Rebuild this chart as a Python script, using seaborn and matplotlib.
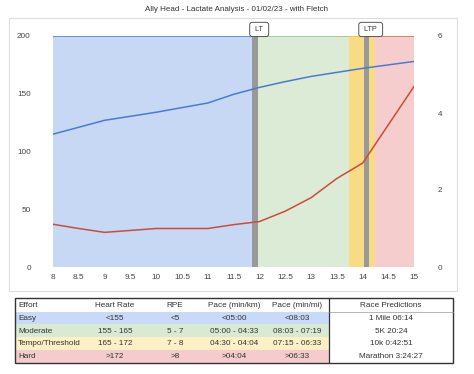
import matplotlib
matplotlib.use("Agg")
import matplotlib.pyplot as plt
from matplotlib.patches import Rectangle
import seaborn as sns
import pandas as pd

sns.set_theme(style="white")
plt.rcParams['font.family'] = ['Liberation Sans', 'DejaVu Sans']

# ---------------- data ----------------
title = "Ally Head - Lactate Analysis - 01/02/23 - with Fletch"
speed = [8, 8.5, 9, 9.5, 10, 10.5, 11, 11.5, 12, 12.5, 13, 13.5, 14, 14.5, 15]
heart_rate = [115, 121, 127, 130.5, 134, 138, 142, 149.5, 155.5, 160.5, 165, 168.5, 172, 175, 178]
lactate = [1.11, 1.0, 0.9, 0.95, 1.0, 1.0, 1.0, 1.1, 1.18, 1.45, 1.8, 2.3, 2.7, 3.7, 4.7]

zone_names = ["Easy", "Moderate", "Tempo/Threshold", "Hard"]
zone_start = [8.0, 11.98, 13.73, 14.23]
zone_end = [11.85, 13.73, 14.23, 15.0]
zone_top = [200, 200, 200, 200]

threshold_labels = ["LT", "LTP"]
threshold_start = [11.85, 14.02]
threshold_end = [11.98, 14.13]

x_ticks = [8, 8.5, 9, 9.5, 10, 10.5, 11, 11.5, 12, 12.5, 13, 13.5, 14, 14.5, 15]
x_tick_labels = ["8", "8.5", "9", "9.5", "10", "10.5", "11", "11.5", "12", "12.5",
                 "13", "13.5", "14", "14.5", "15"]
left_ticks = [0, 50, 100, 150, 200]
right_ticks = [0, 2, 4, 6]

table_header = ["Effort", "Heart Rate", "RPE", "Pace (min/km)", "Pace (min/mi)", "Race Predictions"]
col_heart_rate = ["<155", "155 - 165", "165 - 172", ">172"]
col_rpe = ["<5", "5 - 7", "7 - 8", ">8"]
col_pace_km = ["<05:00", "05:00 - 04:33", "04:30 - 04:04", ">04:04"]
col_pace_mi = ["<08:03", "08:03 - 07:19", "07:15 - 06:33", ">06:33"]
race_predictions = ["1 Mile 06:14", "5K 20:24", "10k 0:42:51", "Marathon 3:24:27"]

# ---------------- styles ----------------
zone_fill = ["#c6d8f4", "#dcebd6", "#f7dc85", "#f5cdcd"]
zone_line = ["#4a7fd6", "#93c47d", "#f1c232", "#e06666"]
row_fill = ["#c9daf8", "#d9ead3", "#fdefc6", "#f4cccc"]
hr_color = "#4a7bd4"
lac_color = "#cc4b3c"
txt = "#444444"
fs = 5.9

W, H = 474, 374
fig = plt.figure(figsize=(W / 100, H / 100), dpi=100)

# chart border
bg = fig.add_axes([0, 0, 1, 1])
bg.set_xlim(0, W)
bg.set_ylim(H, 0)
bg.axis("off")
bg.add_patch(Rectangle((9, 18), 448, 273, fill=False, ec="#dddddd", lw=0.8))
bg.text(W / 2, 9.5, title, ha="center", va="center", fontsize=5.8, color="#333333")

# main axes
x0, x1, ytop, ybot = 53, 414.3, 36, 267
ax = fig.add_axes([x0 / W, 1 - ybot / H, (x1 - x0) / W, (ybot - ytop) / H])
ax.set_xlim(8, 15)
ax.set_ylim(0, 200)

for s, e, t, f, l in zip(zone_start, zone_end, zone_top, zone_fill, zone_line):
    ax.fill_between([s, e], 0, t, color=f, lw=0, zorder=1)
    ax.plot([s, e], [t, t], color=l, lw=1.1, zorder=2, solid_capstyle="butt")
for s, e in zip(threshold_start, threshold_end):
    ax.fill_between([s, e], 0, 200, color="#999999", lw=0, zorder=3)

df = pd.DataFrame({"speed": speed, "hr": heart_rate, "lactate": lactate})
sns.lineplot(data=df, x="speed", y="hr", ax=ax, color=hr_color, lw=1.1, zorder=4)

ax2 = ax.twinx()
ax2.set_ylim(0, 6)
sns.lineplot(data=df, x="speed", y="lactate", ax=ax2, color=lac_color, lw=1.1, zorder=4)

for a in (ax, ax2):
    for sp in a.spines.values():
        sp.set_visible(False)
    a.set_xlabel("")
    a.set_ylabel("")
    a.patch.set_alpha(0)
ax.set_xticks(x_ticks)
ax.set_xticklabels(x_tick_labels)
ax.set_yticks(left_ticks)
ax2.set_yticks(right_ticks)
ax.tick_params(axis="x", length=0, pad=5, labelsize=fs, colors=txt)
ax.tick_params(axis="y", length=0, pad=16, labelsize=fs, colors=txt)
ax2.tick_params(axis="y", length=0, pad=17, labelsize=fs, colors=txt)
for lab in ax2.get_yticklabels():
    lab.set_horizontalalignment("left")

# threshold label boxes
for lab, s, e in zip(threshold_labels, threshold_start, threshold_end):
    ax.annotate(" " + lab + " ", xy=((s + e) / 2 + 0.08, 1.0), xycoords=("data", "axes fraction"),
                xytext=(0, 2.2), textcoords="offset points",
                ha="center", va="bottom", fontsize=5.2, color="#333333", zorder=6,
                annotation_clip=False,
                bbox=dict(boxstyle="round,pad=0.5,rounding_size=0.35", fc="white",
                          ec="#555555", lw=0.7))

# ---------------- table ----------------
tb = fig.add_axes([0, 0, 1, 1])
tb.set_xlim(0, W)
tb.set_ylim(H, 0)
tb.axis("off")
tl, tr, ttop = 15, 453, 298
hdr_h, row_h = 13.5, 12.75
sep = 329
col_x = [18, 115, 175, 234, 297, 391]
col_ha = ["left", "center", "center", "center", "center", "center"]

for i, f in enumerate(row_fill):
    y = ttop + hdr_h + i * row_h
    tb.add_patch(Rectangle((tl, y), sep - tl, row_h, fc=f, ec="none"))
for j, h in enumerate(table_header):
    tb.text(col_x[j], ttop + hdr_h / 2 + 0.5, h, ha=col_ha[j], va="center",
            fontsize=fs, color="#333333")
cols = [zone_names, col_heart_rate, col_rpe, col_pace_km, col_pace_mi, race_predictions]
for j, col in enumerate(cols):
    for i, v in enumerate(col):
        y = ttop + hdr_h + i * row_h + row_h / 2 + 0.5
        tb.text(col_x[j], y, v, ha=col_ha[j], va="center", fontsize=fs, color="#333333")
bottom = ttop + hdr_h + len(zone_names) * row_h
tb.add_patch(Rectangle((tl, ttop), tr - tl, bottom - ttop, fill=False, ec="#333333", lw=1.0))
tb.plot([sep, sep], [ttop, bottom], color="#333333", lw=0.9)
tb.plot([sep, tr], [ttop + hdr_h, ttop + hdr_h], color="#999999", lw=0.5)

fig.savefig("out.png", dpi=100)
